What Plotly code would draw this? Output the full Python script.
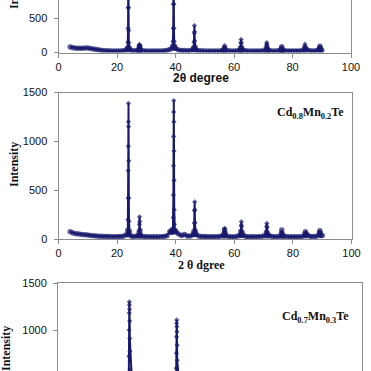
import plotly.graph_objects as go

# ---------------- data (2-theta in degrees, intensity in counts) ----------------
BASE_X = list(range(4, 91))  # baseline sampling positions

top_base_y = [80, 70, 62, 60, 62, 66, 64, 58, 50, 42, 35, 30, 26, 24, 23, 22, 22, 22, 24, 35,
              60, 28, 24, 30, 35, 24, 22, 22, 22, 22, 22, 23, 24, 28, 45, 90, 60, 35, 28, 30,
              25, 28, 45, 40, 26, 24, 23, 22, 22, 22, 22, 23, 28, 35, 24, 22, 22, 25, 35, 35,
              24, 22, 22, 22, 22, 22, 26, 40, 30, 23, 22, 24, 35, 28, 22, 22, 22, 22, 22, 24,
              35, 40, 24, 22, 24, 40, 30]
top_peak_x = [23.55, 23.65, 23.72, 23.77, 23.81, 23.85, 23.88, 23.92, 23.96, 24.0, 24.06, 24.15, 24.3,
              27.45, 27.58, 27.65, 27.7, 27.76, 27.84, 27.95,
              38.9, 39.05, 39.15, 39.22, 39.27, 39.31, 39.35, 39.39, 39.43, 39.48, 39.55, 39.65, 39.8,
              46.1, 46.25, 46.35, 46.42, 46.47, 46.52, 46.58, 46.68, 46.85,
              56.5, 56.68, 56.78, 56.88, 57.05,
              62.1, 62.25, 62.35, 62.42, 62.5, 62.6, 62.75,
              70.9, 71.05, 71.15, 71.22, 71.3, 71.4, 71.6,
              76.05, 76.2, 76.3, 76.4, 76.6,
              84.0, 84.15, 84.27, 84.38, 84.55,
              89.1, 89.25, 89.38, 89.5, 89.7]
top_peak_y = [40, 70, 150, 350, 650, 1000, 1350, 1050, 650, 320, 140, 70, 40,
              30, 60, 95, 117, 90, 50, 30,
              60, 90, 160, 350, 700, 1050, 1400, 1100, 700, 350, 160, 90, 60,
              40, 70, 150, 280, 390, 300, 170, 80, 40,
              30, 60, 100, 60, 30,
              30, 70, 140, 190, 140, 70, 30,
              30, 70, 120, 145, 110, 60, 30,
              28, 55, 85, 55, 28,
              30, 70, 120, 70, 35,
              35, 60, 90, 65, 40]

mid_base_y = [75, 62, 55, 50, 46, 43, 40, 36, 32, 30, 28, 27, 26, 25, 24, 24, 24, 25, 27, 40,
              60, 28, 25, 32, 40, 25, 23, 23, 23, 23, 23, 24, 26, 32, 75, 90, 75, 50, 35, 45,
              30, 30, 45, 45, 28, 26, 25, 24, 24, 24, 24, 25, 35, 40, 26, 24, 24, 28, 40, 40,
              25, 24, 24, 24, 24, 25, 30, 45, 32, 25, 24, 26, 40, 30, 24, 24, 24, 24, 24, 26,
              40, 42, 26, 25, 28, 50, 35]
mid_peak_x = [23.55, 23.65, 23.72, 23.76, 23.8, 23.83, 23.86, 23.89, 23.92, 23.96, 24.0, 24.06, 24.15, 24.3,
              27.4, 27.52, 27.6, 27.66, 27.72, 27.8, 27.9, 28.05,
              38.45, 38.6, 38.75, 38.9, 39.05, 39.15, 39.21, 39.25, 39.29, 39.32, 39.35, 39.38, 39.42,
              39.46, 39.51, 39.58, 39.7, 39.9,
              46.1, 46.25, 46.35, 46.42, 46.47, 46.52, 46.58, 46.68, 46.85,
              56.4, 56.55, 56.65, 56.72, 56.8, 56.95,
              62.1, 62.25, 62.35, 62.42, 62.5, 62.6, 62.75,
              70.8, 70.95, 71.05, 71.12, 71.2, 71.3, 71.5,
              75.95, 76.1, 76.2, 76.3, 76.5,
              84.0, 84.15, 84.28, 84.4, 84.6,
              88.95, 89.1, 89.2, 89.32, 89.5]
mid_peak_y = [45, 90, 200, 420, 700, 950, 1200, 1390, 1150, 800, 420, 180, 80, 40,
              30, 70, 150, 228, 180, 90, 45, 30,
              70, 90, 80, 70, 110, 220, 450, 750, 1050, 1300, 1418, 1200, 900,
              600, 300, 150, 90, 75,
              45, 80, 160, 290, 381, 300, 170, 80, 45,
              30, 60, 95, 109, 70, 32,
              35, 80, 140, 177, 130, 70, 35,
              32, 70, 130, 160, 120, 60, 32,
              30, 60, 92, 55, 28,
              32, 55, 75, 50, 32,
              40, 65, 85, 60, 35]

bot_base_y = [70, 60, 52, 48, 45, 42, 38, 34, 31, 29, 28, 27, 26, 25, 24, 24, 24, 25, 27, 40,
              55, 28, 25, 30, 35, 25, 23, 23, 23, 23, 23, 24, 26, 30, 60, 80, 60, 40, 32, 38,
              28, 30, 40, 40, 27, 25, 24, 24, 24, 24, 24, 25, 32, 38, 25, 24, 24, 27, 38, 38,
              25, 24, 24, 24, 24, 25, 28, 40, 30, 25, 24, 25, 35, 28, 24, 24, 24, 24, 24, 25,
              35, 38, 25, 24, 26, 45, 32]
bot_peak_x = [23.1, 23.25, 23.33, 23.38, 23.42, 23.46, 23.5, 23.54, 23.58, 23.62, 23.66, 23.7,
              23.75, 23.82, 23.95,
              38.7, 38.85, 38.95, 39.0, 39.04, 39.08, 39.12, 39.16, 39.2, 39.24, 39.28, 39.35,
              39.45, 39.6]
bot_peak_y = [40, 120, 400, 720, 1000, 1180, 1300, 1265, 1220, 1095, 910, 775, 580, 250, 60,
              60, 250, 593, 754, 928, 1071, 1107, 1035, 982, 839, 679, 400, 150, 60]

x_ticks = [0, 20, 40, 60, 80, 100]
y_ticks = [0, 500, 1000, 1500]
sample_labels = ["Cd<sub>0.8</sub>Mn<sub>0.2</sub>Te", "Cd<sub>0.7</sub>Mn<sub>0.3</sub>Te"]
x_titles = ["2θ degree", "2 θ dgree"]
y_title = "Intensity"


def merge(base_y, px, py):
    pts = list(zip(px, py))
    spans = []
    start = px[0]
    prev = px[0]
    for x in px[1:]:
        if x - prev > 1.0:
            spans.append((start, prev))
            start = x
        prev = x
    spans.append((start, prev))
    for x, y in zip(BASE_X, base_y):
        if not any(a <= x <= b for a, b in spans):
            pts.append((x, y))
    pts.sort()
    return [p[0] for p in pts], [p[1] for p in pts]


W = H = 371
def px2x(p):
    return p / W
def py2y(p):
    return 1 - p / H

COLOR = "#18186c"
AX = "#8c8c8c"
TICKFONT = dict(family="Liberation Sans, Arial", size=11, color="#111")

fig = go.Figure()
for (by, pxs, pys), xa, ya in [((top_base_y, top_peak_x, top_peak_y), "x", "y"),
                               ((mid_base_y, mid_peak_x, mid_peak_y), "x2", "y2"),
                               ((bot_base_y, bot_peak_x, bot_peak_y), "x3", "y3")]:
    xs, ys = merge(by, pxs, pys)
    sizes = [5.5 if v < 100 else 4 for v in ys]
    symbols = ["circle" if v < 100 else "diamond" for v in ys]
    fig.add_trace(go.Scatter(x=xs, y=ys, xaxis=xa, yaxis=ya, mode="lines+markers",
                             line=dict(color=COLOR, width=2),
                             marker=dict(color=COLOR, size=sizes, symbol=symbols,
                                         line=dict(width=0)),
                             showlegend=False, hoverinfo="skip"))

common_x = dict(range=[0, 100], tickvals=x_ticks, showgrid=False, zeroline=False,
                showline=True, linecolor=AX, linewidth=1, ticks="outside", ticklen=4,
                tickcolor=AX, tickfont=TICKFONT, automargin=False)
common_y = dict(showgrid=False, zeroline=False, showline=True, linecolor=AX, linewidth=1,
                mirror=True, ticks="outside", ticklen=4, tickcolor=AX, tickfont=TICKFONT,
                ticklabelstandoff=4, automargin=False)

fig.update_layout(
    width=W, height=H, margin=dict(l=0, r=0, t=0, b=0, pad=0, autoexpand=False),
    paper_bgcolor="white", plot_bgcolor="white",
    xaxis=dict(**common_x, domain=[px2x(58.5), px2x(351)], anchor="y", mirror=False),
    yaxis=dict(**common_y, domain=[py2y(52.5), 1], anchor="x", range=[0, 761], tickvals=y_ticks),
    xaxis2=dict(**common_x, domain=[px2x(58.5), px2x(351.5)], anchor="y2", mirror=True),
    yaxis2=dict(**common_y, domain=[py2y(239), py2y(92.5)], anchor="x2", range=[0, 1500],
                tickvals=y_ticks),
    xaxis3=dict(range=[0, 100], domain=[px2x(58), px2x(361.5)], anchor="y3", side="top",
                showline=True, linecolor=AX, linewidth=1, showticklabels=False, ticks="",
                showgrid=False, zeroline=False, automargin=False),
    yaxis3=dict(**common_y, domain=[0, py2y(283)], anchor="x3", range=[564, 1500],
                tickvals=y_ticks),
)

serif_bold = dict(family="Liberation Serif, Times New Roman", size=12, color="#111")
sans_bold = dict(family="Liberation Sans, Arial", size=12, color="#111")
ann = [
    dict(text=f"<b>{y_title}</b>", x=px2x(13.5), y=py2y(-13.5), textangle=-90, font=serif_bold),
    dict(text=f"<b>{y_title}</b>", x=px2x(13.5), y=py2y(164.5), textangle=-90, font=serif_bold),
    dict(text=f"<b>{y_title}</b>", x=px2x(6), y=py2y(349), textangle=-90, font=serif_bold),
    dict(text=f"<b>{x_titles[0]}</b>", x=px2x(201), y=py2y(78), font=sans_bold),
    dict(text=f"<b>{x_titles[1]}</b>", x=px2x(201), y=py2y(265), font=serif_bold),
    dict(text=f"<b>{sample_labels[0]}</b>", x=px2x(310), y=py2y(113), font=serif_bold),
    dict(text=f"<b>{sample_labels[1]}</b>", x=px2x(315), y=py2y(317), font=serif_bold),
]
for a in ann:
    fig.add_annotation(xref="paper", yref="paper", showarrow=False,
                       xanchor="center", yanchor="middle", **a)

fig.write_html("out.html", config={"displayModeBar": False, "staticPlot": True},
               post_script="document.body.style.margin='0';document.body.style.overflow='hidden';")
